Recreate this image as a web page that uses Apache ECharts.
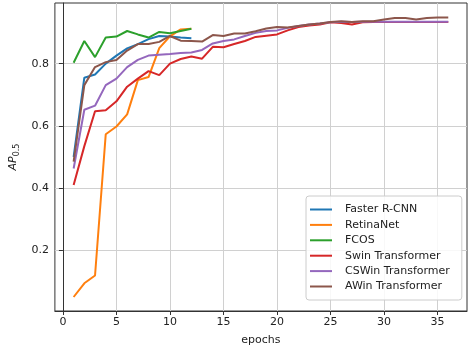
<html lang="en">
<head>
    <meta charset="UTF-8">
    <script src="https://cdn.jsdelivr.net/npm/echarts@6/dist/echarts.min.js"></script>
    <title>AP0.5 vs epochs</title>
    <style>body{margin:0;background:#fff;}</style>
</head>
<body>
<div id="main" style="width: 474px;height:351px;"></div>
<script>
  // epochs and AP0.5 values
  var epochsShort = [1,2,3,4,5,6,7,8,9,10,11,12];
  var epochsLong = [];
  for (var i = 1; i <= 36; i++) epochsLong.push(i);

  var fasterRcnn = [0.50, 0.755, 0.765, 0.80, 0.826, 0.849, 0.863, 0.879, 0.889, 0.887, 0.884, 0.882];
  var retinaNet = [0.05, 0.094, 0.119, 0.573, 0.598, 0.637, 0.747, 0.757, 0.85, 0.888, 0.91, 0.912];
  var fcos = [0.803, 0.873, 0.821, 0.884, 0.887, 0.905, 0.894, 0.884, 0.902, 0.898, 0.905, 0.912];
  var swin = [0.41, 0.535, 0.647, 0.65, 0.679, 0.726, 0.752, 0.776, 0.763, 0.80, 0.815, 0.823,
              0.816, 0.854, 0.853, 0.863, 0.873, 0.886, 0.89, 0.894, 0.907, 0.918, 0.923, 0.926,
              0.933, 0.931, 0.926, 0.933, 0.934, 0.934, 0.934, 0.934, 0.934, 0.934, 0.934, 0.934];
  var cswin = [0.463, 0.652, 0.665, 0.731, 0.752, 0.789, 0.812, 0.826, 0.829, 0.831, 0.834, 0.836,
               0.844, 0.865, 0.873, 0.878, 0.889, 0.899, 0.905, 0.907, 0.915, 0.921, 0.926, 0.929,
               0.933, 0.935, 0.934, 0.935, 0.935, 0.935, 0.935, 0.935, 0.935, 0.935, 0.935, 0.935];
  var awin = [0.485, 0.731, 0.789, 0.805, 0.812, 0.842, 0.863, 0.863, 0.870, 0.889, 0.874, 0.873,
              0.871, 0.892, 0.889, 0.897, 0.897, 0.904, 0.913, 0.918, 0.916, 0.921, 0.926, 0.929,
              0.934, 0.936, 0.934, 0.936, 0.936, 0.942, 0.947, 0.947, 0.942, 0.947, 0.948, 0.948];

  var xTicks = [0, 5, 10, 15, 20, 25, 30, 35];
  var yTicks = [0.2, 0.4, 0.6, 0.8];

  var names = ['Faster R-CNN', 'RetinaNet', 'FCOS', 'Swin Transformer', 'CSWin Transformer', 'AWin Transformer'];
  var colors = ['#1f77b4', '#ff7f0e', '#2ca02c', '#d62728', '#9467bd', '#8c564b'];
  var allData = [fasterRcnn, retinaNet, fcos, swin, cswin, awin];

  function pairs(xs, ys) {
    return ys.map(function (v, i) { return [xs[i], v]; });
  }

  var font = 'DejaVu Sans';
  var myChart = echarts.init(document.getElementById('main'));

  var series = allData.map(function (d, i) {
    return {
      name: names[i],
      type: 'line',
      symbol: 'none',
      data: pairs(d.length === 12 ? epochsShort : epochsLong, d),
      lineStyle: { width: 2, color: colors[i] },
      itemStyle: { color: colors[i] },
      z: 3 + i
    };
  });

  var option = {
    animation: false,
    textStyle: { fontFamily: font },
    grid: {
      left: 48, right: 7, top: 3, bottom: 36,
      show: true, borderColor: '#333', borderWidth: 1
    },
    legend: {
      orient: 'vertical',
      left: 306, top: 196,
      data: names,
      icon: 'rect',
      itemWidth: 22, itemHeight: 2,
      itemGap: 4.4,
      padding: [8, 12, 8, 4],
      backgroundColor: 'rgba(255,255,255,0.85)',
      borderColor: '#ccc', borderWidth: 1, borderRadius: 3,
      textStyle: { fontFamily: font, fontSize: 11, color: '#222', lineHeight: 11, padding: [0, 0, 0, 8] }
    },
    xAxis: {
      type: 'value',
      min: -0.75, max: 37.75,
      name: 'epochs', nameLocation: 'middle', nameGap: 24,
      nameTextStyle: { fontFamily: font, fontSize: 11, color: '#222' },
      axisLine: { show: true, lineStyle: { color: '#333' } },
      axisTick: { show: true, inside: false, length: 4, customValues: xTicks, lineStyle: { color: '#333' } },
      axisLabel: { customValues: xTicks, fontFamily: font, fontSize: 11, color: '#222', margin: 6 },
      splitLine: { show: true, lineStyle: { color: '#d0d0d0', width: 1 } }
    },
    yAxis: {
      type: 'value',
      min: 0.005, max: 0.995,
      name: '{it|AP}{sub|0.5}', nameLocation: 'middle', nameGap: 32, nameRotate: 90,
      nameTextStyle: {
        rich: {
          it: { fontFamily: font, fontStyle: 'italic', fontSize: 11, color: '#222' },
          sub: { fontFamily: font, fontSize: 8, color: '#222', padding: [6, 0, 0, 0] }
        }
      },
      axisLine: { show: true, lineStyle: { color: '#333' } },
      axisTick: { show: true, inside: false, length: 4, customValues: yTicks, lineStyle: { color: '#333' } },
      axisLabel: {
        customValues: yTicks, fontFamily: font, fontSize: 11, color: '#222', margin: 6,
        formatter: function (v) { return v.toFixed(1); }
      },
      splitLine: { show: true, lineStyle: { color: '#d0d0d0', width: 1 } }
    },
    series: series
  };

  myChart.setOption(option);
</script>
</body>
</html>
